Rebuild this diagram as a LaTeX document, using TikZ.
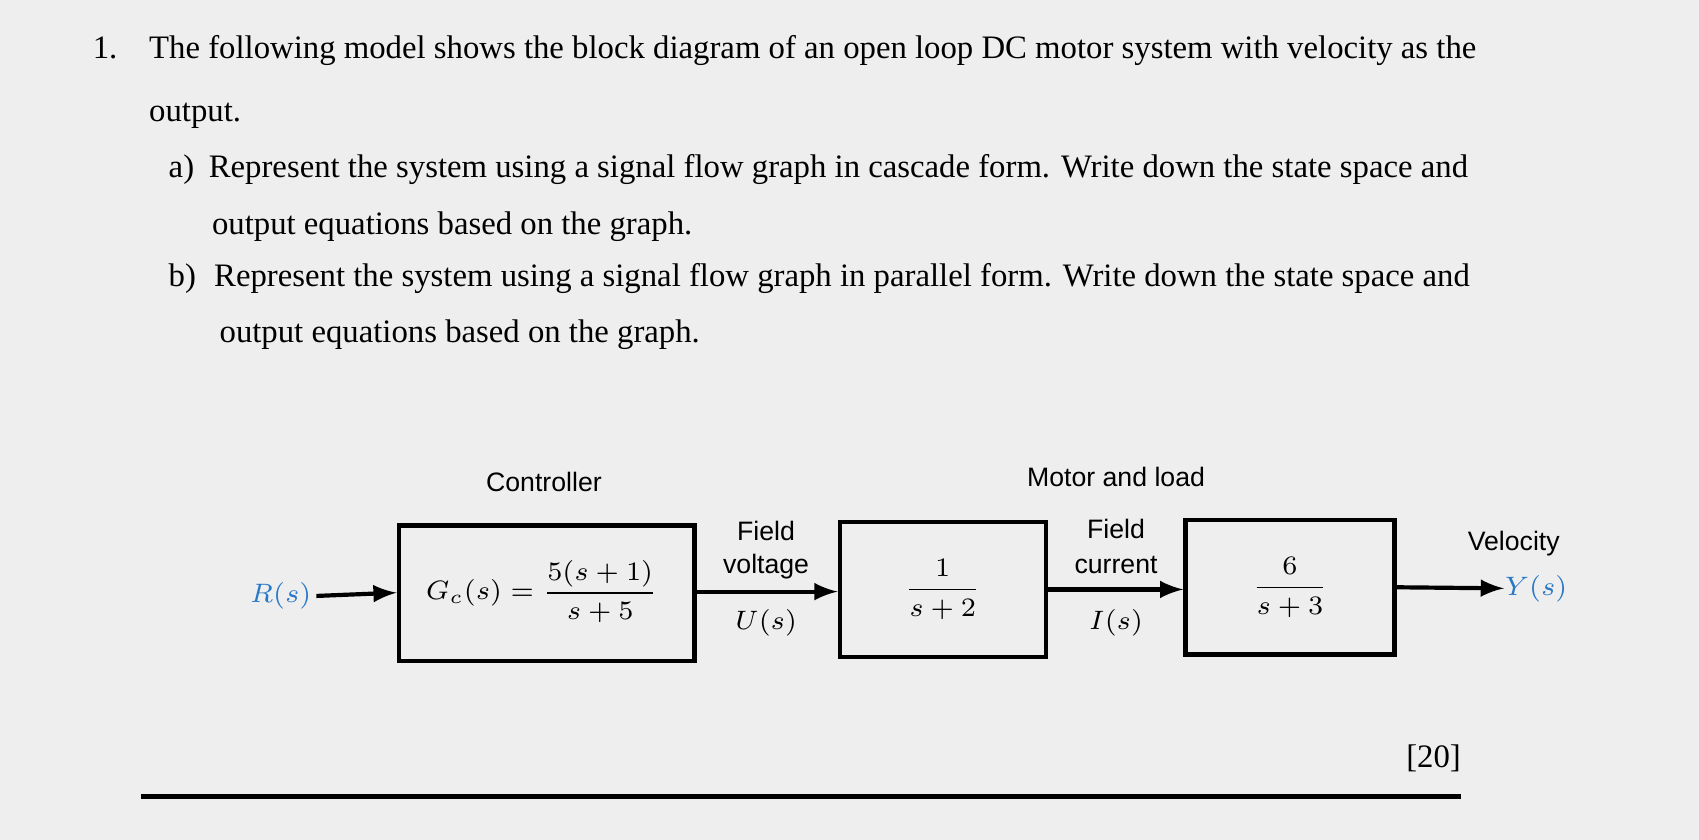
\documentclass[tikz,border=0pt]{standalone}
\usepackage{amsmath}
\usepackage{fontspec}
\setmainfont{Liberation Serif}
\newfontfamily\lab{Liberation Sans}
\definecolor{bgc}{RGB}{238,238,238}
\definecolor{blu}{RGB}{40,120,200}
\begin{document}
\begin{tikzpicture}[x=1cm,y=-1cm,
  txt/.style={anchor=base west,inner sep=0pt,font=\fontsize{8.6pt}{10pt}\selectfont},
  lbl/.style={inner sep=0pt,font=\lab\fontsize{7pt}{8pt}\selectfont},
  blk/.style={draw,line width=1.1pt},
  sig/.style={-latex,line width=1.1pt},
  bl/.style={text=blu}]
\fill[bgc] (0,0) rectangle (15.68,7.75);
\useasboundingbox (0,0) rectangle (15.68,7.75);
\node[txt] (n1) at (0.85,0.54) {1.};
\node[txt] (l1) at (1.37,0.54) {The following model shows the block diagram of an open loop DC motor system with velocity as the};
\node[txt] (l2) at (1.37,1.12) {output.};
\node[txt] (a) at (1.55,1.64) {a)};
\node[txt] (l3) at (1.92,1.64) {Represent the system using a signal flow graph in cascade form. Write down the state space and};
\node[txt] (l4) at (1.95,2.16) {output equations based on the graph.};
\node[txt] (b) at (1.55,2.64) {b)};
\node[txt] (l5) at (1.97,2.64) {Represent the system using a signal flow graph in parallel form. Write down the state space and};
\node[txt] (l6) at (2.02,3.16) {output equations based on the graph.};
\node[blk,minimum width=2.73cm,minimum height=1.25cm] (g1) at (5.045,5.475) {};
\node[blk,minimum width=1.90cm,minimum height=1.24cm] (g2) at (8.70,5.44) {};
\node[blk,minimum width=1.93cm,minimum height=1.24cm] (g3) at (11.905,5.42) {};
\node[lbl] at (5.0,5.46) {$G_c(s)=\dfrac{5(s+1)}{s+5}$};
\node[lbl] at (8.70,5.44) {$\dfrac{1}{s+2}$};
\node[lbl] at (11.905,5.42) {$\dfrac{6}{s+3}$};
\node[lbl,bl,anchor=east] (r) at (2.88,5.50) {$R(s)$};
\node[lbl,bl,anchor=west] (y) at (13.88,5.43) {$Y(s)$};
\draw[sig] (r.east) ++(0.04,0) -- (g1.west |- 0,5.47) coordinate (r1);
\draw[sig] (g1.east |- 0,5.46) -- (g2.west |- 0,5.46);
\draw[sig] (g2.east |- 0,5.44) -- (g3.west |- 0,5.44);
\draw[sig] (g3.east |- 0,5.42) -- (y.west);
\node[lbl] (c) at (5.02,4.45) {Controller};
\node[lbl] (m) at (10.30,4.40) {Motor and load};
\node[lbl] (f1) at (7.07,4.90) {Field};
\node[lbl] (v1) at (7.07,5.23) {voltage};
\node[lbl] (u1) at (7.07,5.75) {$U(s)$};
\node[lbl] (f2) at (10.30,4.88) {Field};
\node[lbl] (c2) at (10.30,5.21) {current};
\node[lbl] (i2) at (10.30,5.75) {$I(s)$};
\node[lbl] (ve) at (13.97,5.02) {Velocity};
\node[txt,anchor=center] (pt) at (13.23,7.00) {[20]};
\draw[line width=1.3pt] (1.30,7.35) -- (13.48,7.35);
\end{tikzpicture}
\end{document}
